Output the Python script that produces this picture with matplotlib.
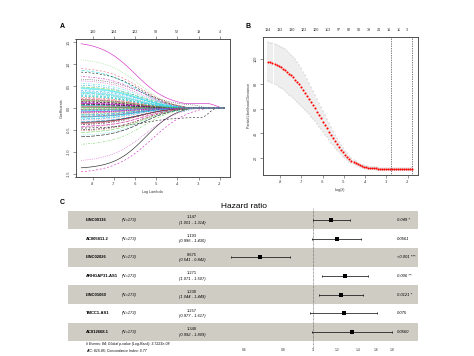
import numpy as np
import matplotlib
matplotlib.use("Agg")
import matplotlib.pyplot as plt
from matplotlib.ticker import NullLocator

plt.rcParams['font.family'] = ['Liberation Sans', 'DejaVu Sans']
plt.rcParams['axes.unicode_minus'] = False

# ---------------- data ----------------
# lambda path (glmnet: evenly spaced on the log scale)
loglam_first = -8.55
loglam_last = -1.78
n_lambda = 72

# Panel A: coefficient at the smallest lambda, and log-lambda where each path shrinks
coef_start = [-1.37, 0.22, 1.10, 0.12, 0.86, 1.47, 0.82, -0.28, -0.83, 0.05,
              0.36, -1.46, 0.66, -0.12, 0.48, -0.05, 0.30, -1.20, -0.50, 0.15,
              -0.20, 0.40, -0.62, 0.72, 0.08, -0.35, 0.26, -0.08, 0.56, -0.42,
              0.02, 0.18, -0.15, 0.52, -0.25, 0.10, -0.46, 0.33, -0.02, -0.31,
              0.44, 0.13, -0.10, 0.24, -0.56, 0.06, -0.18, 0.62, -0.38, 0.20,
              -0.04, 0.28, -0.22, 0.16, -0.66, 0.04, -0.14, 0.38, -0.06, 0.11,
              -0.33, 0.90, 0.00, -0.26, 0.34, -0.09, 0.14, -0.44, 0.07, -0.16,
              0.46, -0.03, 0.19, -0.52, 0.01, -0.21, 0.27, -0.11, 0.09, -0.36,
              0.17, -0.07, 0.31, -0.19]
coef_mid = [-5.5, -6.0, -5.8, -6.1, -5.9, -6.0, -5.7, -5.9, -5.6, -6.2,
            -5.9, -5.2, -5.7, -6.0, -5.8, -6.3, -6.0, -5.5, -5.6, -6.1,
            -5.9, -5.7, -5.6, -5.7, -6.2, -5.8, -6.0, -6.3, -5.7, -5.6,
            -6.4, -6.0, -5.9, -5.8, -6.0, -6.1, -5.6, -5.9, -6.3, -5.7,
            -5.8, -6.0, -6.0, -5.9, -5.6, -6.2, -6.0, -5.7, -5.8, -6.0,
            -6.2, -5.9, -6.0, -6.1, -5.6, -6.3, -6.0, -5.8, -6.2, -6.0,
            -5.7, -5.7, -6.4, -5.9, -6.0, -6.1, -6.0, -5.7, -6.2, -6.0,
            -5.8, -6.3, -6.0, -5.6, -6.4, -5.9, -6.0, -6.1, -6.2, -5.8,
            -6.0, -6.2, -5.9, -6.0]
coef_width = {0: 0.75, 11: 0.9, 17: 0.85}
coef_tail = {5: (0.10, -1.78), 12: (0.07, -2.5), 36: (-0.22, -2.1),
             58: (-0.08, -3.0), 14: (0.04, -3.3)}

a_xticks = [-8, -7, -6, -5, -4, -3, -2]
a_top_df = ["130", "124", "122", "93", "52", "19", "4"]
a_yticks = [-1.5, -1.0, -0.5, 0.0, 0.5, 1.0, 1.5]

# Panel B: cross-validated partial likelihood deviance
cv_deviance = [98.0, 97.4, 96.8, 96.1, 95.3, 94.4, 93.4, 92.3, 91.1, 89.8,
               88.4, 86.9, 85.3, 83.5, 81.6, 79.6, 77.5, 75.3, 73.0, 70.6,
               68.1, 65.6, 63.0, 60.4, 57.7, 55.0, 52.3, 49.6, 46.9, 44.2,
               41.5, 38.9, 36.3, 33.8, 31.4, 29.1, 26.9, 24.8, 22.9, 21.1,
               19.5, 18.1, 16.9, 15.8, 14.9, 14.1, 13.5, 13.0, 12.6, 12.3,
               12.1, 11.9, 11.8, 11.7, 11.6, 11.55, 11.5, 11.45, 11.42, 11.40,
               11.38, 11.37, 11.37, 11.38, 11.40, 11.42, 11.45, 11.48, 11.52, 11.56,
               11.60, 11.65]
cv_se = [16.0, 16.1, 16.2, 16.3, 16.4, 16.5, 16.6, 16.7, 16.8, 16.9,
         17.0, 16.9, 16.7, 16.5, 16.2, 15.8, 15.3, 14.7, 14.1, 13.4,
         12.7, 12.0, 11.3, 10.6, 10.0, 9.4, 8.8, 8.3, 7.8, 7.3,
         6.8, 6.3, 5.8, 5.3, 4.8, 4.3, 3.9, 3.5, 3.1, 2.7,
         2.4, 2.1, 1.9, 1.7, 1.5, 1.4, 1.3, 1.2, 1.1, 1.05,
         1.0, 0.95, 0.92, 0.9, 0.88, 0.86, 0.85, 0.84, 0.83, 0.82,
         0.82, 0.82, 0.82, 0.82, 0.82, 0.82, 0.83, 0.83, 0.84, 0.84,
         0.85, 0.85]
lambda_min = -2.76
lambda_1se = -1.81
b_xticks = [-8, -7, -6, -5, -4, -3, -2]
b_yticks = [20, 40, 60, 80, 100]
b_top_pos = [-8.56, -8.0, -7.44, -6.87, -6.31, -5.75, -5.23, -4.76, -4.29,
             -3.82, -3.35, -2.88, -2.41, -2.04]
b_top_df = ["134", "132", "130", "122", "120", "113", "97", "82", "56",
            "39", "21", "16", "11", "3"]

# Panel C: multivariate Cox model
genes = ["LINC00116", "AC005811.2", "LINC02026", "ARHGAP31-AS1",
         "LINC01060", "TMCC1-AS1", "AC012668.1"]
n_obs = ["(N=173)"] * 7
hr = [1.147, 1.193, 0.675, 1.271, 1.230, 1.257, 1.340]
hr_low = [1.001, 0.995, 0.541, 1.071, 1.044, 0.977, 0.992]
hr_high = [1.314, 1.430, 0.842, 1.507, 1.449, 1.617, 1.809]
p_text = ["0.049 *", "0.0561", "<0.001 ***", "0.006 **", "0.0121 *", "0.075", "0.0560"]
c_xticks = [0.6, 0.8, 1, 1.2, 1.4, 1.6, 1.8]
c_footer = ["# Events: 84; Global p-value (Log-Rank): 3.7223e-08",
            "AIC: 815.85; Concordance Index: 0.77"]

# ---------------- figure ----------------
W, H = 474, 356
fig = plt.figure(figsize=(W / 100, H / 100), dpi=100)


def fx(x):
    return x / W


def fy(y):
    return 1 - y / H


def rect(l, t, r, b):
    return [fx(l), fy(b), fx(r) - fx(l), fy(t) - fy(b)]


FS = 2.7
r_cols = ["black", "#DF536B", "#61D04F", "#2297E6", "#28E2E5", "#CD0BBC"]
r_lty = ["-", (0, (3, 3)), (0, (1, 2)), (0, (1, 2, 3, 2)), (0, (6, 2))]


def r_style(ax):
    for sp in ax.spines.values():
        sp.set_linewidth(0.5)
        sp.set_color('#444444')
    ax.tick_params(length=2, width=0.4, labelsize=FS, pad=1.5, direction='out',
                   color='#444444', labelcolor='#333333')


# ---- Panel A ----
xs = np.linspace(loglam_first, loglam_last, n_lambda)
axA = fig.add_axes(rect(75.5, 38.5, 230, 177))
for i, (c0, m) in enumerate(zip(coef_start, coef_mid)):
    s = coef_width.get(i, 0.8)
    sig = lambda x: 1.0 / (1.0 + np.exp((x - m) / s))
    xz = m + 3.0 * s
    S = np.clip((sig(xs) - sig(xz)) / (sig(xs[0]) - sig(xz)), 0, None)
    p, xe = coef_tail.get(i, (0.0, -5.0))
    t = np.clip((xe - xs) / 0.8, 0, 1)
    T = t * t * (3 - 2 * t)
    y = (c0 - p) * S + p * T
    axA.plot(xs, y, color=r_cols[i % 6], ls=r_lty[i % 5], lw=0.45, alpha=0.85)
axA.set_xlim(-8.82, -1.51)
axA.set_ylim(-1.58, 1.59)
axA.set_xticks(a_xticks)
axA.set_xticklabels([str(v) for v in a_xticks])
axA.set_yticks(a_yticks)
axA.set_yticklabels(["%.1f" % v for v in a_yticks], rotation=90, va='center')
r_style(axA)
axA.set_xlabel("Log Lambda", fontsize=FS, labelpad=3, color='#333333')
axA.set_ylabel("Coefficients", fontsize=FS, labelpad=2, color='#333333')
axA2 = axA.twiny()
axA2.set_xlim(axA.get_xlim())
axA2.set_xticks(a_xticks)
axA2.set_xticklabels(a_top_df)
r_style(axA2)
fig.text(fx(62), fy(27), "A", fontsize=5, fontweight='bold', ha='center', va='center')

# ---- Panel B ----
xb = np.linspace(loglam_first, loglam_last, n_lambda)
axB = fig.add_axes(rect(262.7, 36.7, 418, 175))
axB.errorbar(xb, cv_deviance, yerr=cv_se, fmt='none', ecolor='#BBBBBB',
             elinewidth=0.35, capsize=0.8, capthick=0.35)
axB.plot(xb, cv_deviance, 'o', color='red', ms=1.5, mew=0, zorder=3)
axB.axvline(lambda_min, color='black', ls=(0, (1, 1.5)), lw=0.5)
axB.axvline(lambda_1se, color='black', ls=(0, (1, 1.5)), lw=0.5)
axB.set_xlim(-8.82, -1.51)
axB.set_ylim(6.4, 118.2)
axB.set_xticks(b_xticks)
axB.set_xticklabels([str(v) for v in b_xticks])
axB.set_yticks(b_yticks)
axB.set_yticklabels([str(v) for v in b_yticks], rotation=90, va='center')
r_style(axB)
axB.set_xlabel("Log(\u03bb)", fontsize=FS, labelpad=3, color='#333333')
axB.set_ylabel("Partial Likelihood Deviance", fontsize=FS, labelpad=2, color='#333333')
axB2 = axB.twiny()
axB2.set_xlim(axB.get_xlim())
axB2.set_xticks(b_top_pos)
axB2.set_xticklabels(b_top_df)
r_style(axB2)
axB2.tick_params(length=0, pad=3.5)
fig.text(fx(248), fy(27), "B", fontsize=5, fontweight='bold', ha='center', va='center')

# ---- Panel C ----
axC = fig.add_axes(rect(68, 210.7, 418, 341.3))
axC.set_xscale('log')
axC.set_xlim(0.1607, 2.19)
axC.set_ylim(6.5, -0.5)
rows = np.arange(len(genes))
for r in rows:
    if r % 2 == 0:
        axC.axhspan(r - 0.5, r + 0.5, color='#CFCCC4', lw=0, zorder=0)
axC.axvline(1, ymin=-0.068, ymax=1.022, clip_on=False, color='#555555',
            ls=(0, (1, 1)), lw=0.5, zorder=1)
hr_a = np.array(hr)
axC.errorbar(hr_a, rows, xerr=[hr_a - np.array(hr_low), np.array(hr_high) - hr_a],
             fmt='none', ecolor='black', elinewidth=0.5, capsize=1.0, capthick=0.5, zorder=2)
axC.plot(hr_a, rows, 's', color='black', ms=3.0, mew=0, zorder=3)
for sp in axC.spines.values():
    sp.set_visible(False)
axC.set_yticks([])
axC.set_xticks(c_xticks)
axC.set_xticklabels([("%g" % v) for v in c_xticks], fontsize=2.4, color='#333333')
axC.xaxis.set_minor_locator(NullLocator())
axC.tick_params(axis='x', length=0, pad=5)

fig.text(fx(62), fy(202), "C", fontsize=5, fontweight='bold', ha='center', va='center')
fig.text(fx(244), fy(207), "Hazard ratio", fontsize=6, ha='center', va='center')
for r in rows:
    ymid = 220.0 + 18.66 * r
    fig.text(fx(86), fy(ymid), genes[r], fontsize=3, fontweight='bold', ha='left', va='center')
    fig.text(fx(122), fy(ymid), n_obs[r], fontsize=3, style='italic', ha='left', va='center')
    fig.text(fx(192), fy(ymid - 2.6), "%.3f" % hr[r], fontsize=2.9, ha='center', va='center')
    fig.text(fx(192), fy(ymid + 2.6), "(%.3f - %.3f)" % (hr_low[r], hr_high[r]),
             fontsize=2.9, style='italic', ha='center', va='center')
    fig.text(fx(397), fy(ymid), p_text[r], fontsize=3, style='italic', ha='left', va='center')
fig.text(fx(86), fy(344.5), c_footer[0], fontsize=2.5, style='italic', ha='left', va='center')
fig.text(fx(86), fy(351), c_footer[1], fontsize=2.5, style='italic', ha='left', va='center')

fig.savefig("out.png", dpi=100)
